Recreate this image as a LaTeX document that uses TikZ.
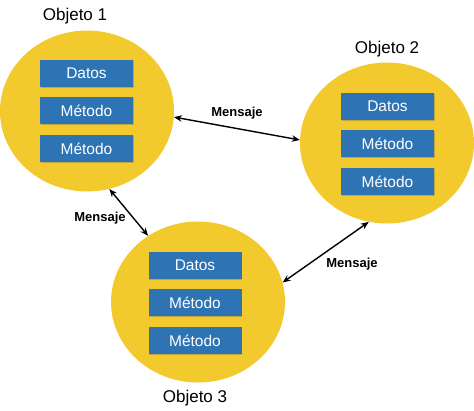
\documentclass[tikz,border=0pt]{standalone}
\usepackage{fontspec}
\setmainfont{Liberation Sans}
\usetikzlibrary{shapes.geometric,arrows.meta,shadows}
\definecolor{objyellow}{RGB}{243,202,46}
\definecolor{boxblue}{RGB}{46,116,180}
\tikzset{
  obj/.style={ellipse, fill=objyellow, minimum width=174pt, minimum height=161pt, inner sep=0pt},
  membox/.style={rectangle, fill=boxblue, minimum width=93pt, minimum height=27pt, inner sep=0pt,
    text=white, font=\fontsize{15.5}{17}\selectfont,
    drop shadow={shadow xshift=0.6pt, shadow yshift=-1.2pt, opacity=0.35, fill=black!60}},
  objlabel/.style={font=\fontsize{17}{19}\selectfont, text=black},
  msglabel/.style={font=\bfseries\fontsize{13}{15}\selectfont, text=black},
  msg/.style={{Stealth[length=8pt,width=6.5pt]}-{Stealth[length=8pt,width=6.5pt]}, line width=1.4pt, black}
}
\begin{document}
\begin{tikzpicture}[x=1pt,y=-1pt]
\useasboundingbox (0,0) rectangle (474,410);
% objects
\node[obj] (c1) at (87,111) {};
\node[obj] (c2) at (387,143) {};
\node[obj] (c3) at (198,302) {};
% boxes
\node[membox] (d1) at (86.5,73.5) {Datos};
\node[membox] (m1a) at (86.5,110.5) {Método};
\node[membox] (m1b) at (86.5,148.5) {Método};
\node[membox] (d2) at (387.5,106.5) {Datos};
\node[membox] (m2a) at (387.5,143.5) {Método};
\node[membox] (m2b) at (387.5,181.5) {Método};
\node[membox] (d3) at (195,265.5) {Datos};
\node[membox] (m3a) at (195,302.5) {Método};
\node[membox] (m3b) at (195,340.5) {Método};
% labels
\node[objlabel] (l1) at (75,16) {Objeto 1};
\node[objlabel] (l2) at (387,49) {Objeto 2};
\node[objlabel] (l3) at (195,398) {Objeto 3};
% messages
\draw[msg] (c1.-4.7) -- (c2.178);
\draw[msg] (c1.-74.8) -- (c3.127.5);
\draw[msg] (c3.13.4) -- (c2.-103.4);
\node[msglabel] (t1) at (237,113) {Mensaje};
\node[msglabel] (t2) at (100,218) {Mensaje};
\node[msglabel] (t3) at (352,264) {Mensaje};
\end{tikzpicture}
\end{document}
